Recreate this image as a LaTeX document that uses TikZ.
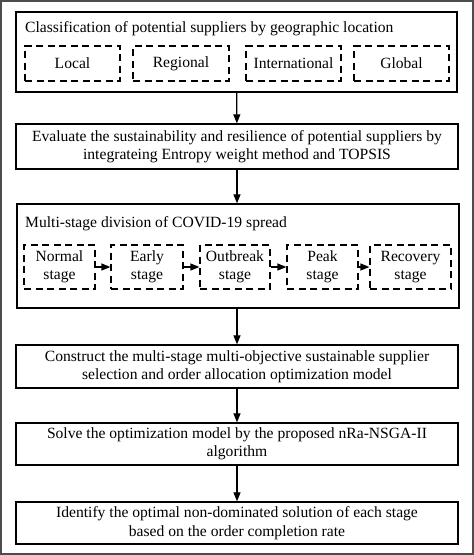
\documentclass[tikz,border=0pt]{standalone}
\usepackage{fontspec}
\setmainfont{Liberation Serif}
\usetikzlibrary{arrows.meta}
\tikzstyle{cadre} = [rectangle, draw=black, line width=1.3pt, inner sep=0pt]
\tikzstyle{tiret} = [rectangle, draw=black, line width=1.2pt, dash pattern=on 7pt off 4.5pt, inner sep=0pt, align=center]
\tikzstyle{texte} = [align=center, font=\fontsize{15.6}{18.5}\selectfont]
\tikzstyle{fleche} = [-{Triangle[length=9pt,width=7pt]}, line width=1.2pt]

\begin{document}
\begin{tikzpicture}[x=1pt, y=-1pt, font=\fontsize{15.6}{18.5}\selectfont]
                \useasboundingbox (0,0) rectangle (474,555);
                \draw[line width=4pt, black!70] (0,0) rectangle (474,555);

                % geographic location
                \node [cadre, minimum width=441pt, minimum height=80pt] (classif) at (236.5,52) {};
                \node [anchor=west, inner sep=0pt] (classift) at (25,29) {Classification of potential suppliers by geographic location};
                \node [tiret, minimum width=95pt, minimum height=35pt] (local) at (72.5,63.5) {Local};
                \node [tiret, minimum width=96pt, minimum height=35pt] (regional) at (181,63.5) {Regional};
                \node [tiret, minimum width=95pt, minimum height=35pt] (inter) at (293.5,63.5) {International};
                \node [tiret, minimum width=95pt, minimum height=35pt] (global) at (401.5,63.5) {Global};

                \node [cadre, texte, minimum width=442pt, minimum height=45pt] (evaluer) at (237,146.5) {Evaluate the sustainability and resilience of potential suppliers by\\integrateing Entropy weight method and TOPSIS};

                % COVID-19 stages
                \node [cadre, minimum width=442pt, minimum height=104pt] (covid) at (238,256) {};
                \node [anchor=west, inner sep=0pt] (covidt) at (25,224) {Multi-stage division of COVID-19 spread};
                \node [tiret, texte, minimum width=71pt, minimum height=44pt] (normal) at (59.5,267) {Normal\\stage};
                \node [tiret, texte, minimum width=72pt, minimum height=44pt] (early) at (147,267) {Early\\stage};
                \node [tiret, texte, minimum width=70pt, minimum height=44pt] (outbreak) at (235,267) {Outbreak\\stage};
                \node [tiret, texte, minimum width=71pt, minimum height=44pt] (peak) at (322.5,267) {Peak\\stage};
                \node [tiret, texte, minimum width=81pt, minimum height=44pt] (recovery) at (410.5,267) {Recovery\\stage};

                \node [cadre, texte, minimum width=442pt, minimum height=43pt] (construire) at (237,366.5) {Construct the multi-stage multi-objective sustainable supplier\\selection and order allocation optimization model};
                \node [cadre, texte, minimum width=442pt, minimum height=42pt] (resoudre) at (237,444) {Solve the optimization model by the proposed nRa-NSGA-II\\algorithm};
                \node [cadre, texte, minimum width=442pt, minimum height=42pt] (identifier) at (237,523) {Identify the optimal non-dominated solution of each stage\\based on the order completion rate};

                \draw[fleche] (classif) -- (evaluer);
                \draw[fleche] (evaluer) -- (evaluer |- covid.north);
                \draw[fleche] (covid.south -| construire) -- (construire);
                \draw[fleche] (construire) -- (resoudre);
                \draw[fleche] (resoudre) -- (identifier);
                \draw[fleche] (normal) -- (early);
                \draw[fleche] (early) -- (outbreak);
                \draw[fleche] (outbreak) -- (peak);
                \draw[fleche] (peak) -- (recovery);
            \end{tikzpicture}
\end{document}
